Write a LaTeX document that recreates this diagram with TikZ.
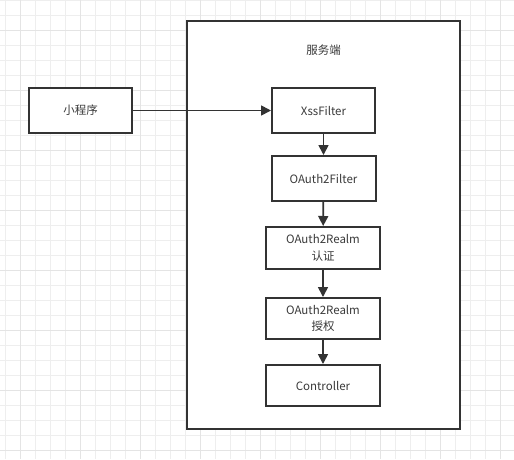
\documentclass[tikz,border=0pt]{standalone}
\usepackage{fontspec}
\setmainfont{Noto Sans CJK SC}
\usetikzlibrary{arrows.meta}
\definecolor{ink}{HTML}{333333}
\definecolor{txt}{HTML}{3A3A3A}
\definecolor{gridc}{HTML}{EEEEEE}
\definecolor{gridd}{HTML}{E4E4E4}
\begin{document}
\begin{tikzpicture}[x=1pt,y=-1pt,
  box/.style={draw=ink,line width=2pt,fill=white,text=txt,font=\fontsize{11.5}{16.5}\selectfont,align=center,inner sep=0pt},
  conn/.style={draw=ink,line width=1.7pt,-{Triangle[length=10pt,width=10pt]}}]
\useasboundingbox (0,0) rectangle (514,459);
\fill[white] (0,0) rectangle (514,459);
% grid
\foreach \i in {0,...,34} {\draw[gridc,line width=1pt] (5.5+15*\i,0) -- (5.5+15*\i,459);}
\foreach \i in {0,...,30} {\draw[gridc,line width=1pt] (0,15*\i) -- (514,15*\i);}
\foreach \i in {0,...,8} {\draw[gridd,line width=1pt] (20.5+60*\i,0) -- (20.5+60*\i,459);}
\foreach \i in {0,...,7} {\draw[gridd,line width=1pt] (0,30+60*\i) -- (514,30+60*\i);}
% server container
\node[draw=ink,line width=2pt,fill=white,minimum width=273pt,minimum height=408pt,inner sep=0pt] (server) at (323.5,224.5) {};
\node[text=txt,font=\fontsize{11.5}{13}\selectfont] (title) at (323.5,50) {服务端};
% nodes
\node[box,minimum width=103pt,minimum height=45pt] (app) at (80.5,110.5) {小程序};
\node[box,minimum width=103pt,minimum height=45pt] (xss) at (323.5,110.5) {XssFilter};
\node[box,minimum width=104pt,minimum height=45pt] (oaf) at (323.5,178.5) {OAuth2Filter};
\node[box,minimum width=114pt,minimum height=42pt] (authn) at (323,248) {OAuth2Realm\\认证};
\node[box,minimum width=114pt,minimum height=41pt] (authz) at (323,318.5) {OAuth2Realm\\授权};
\node[box,minimum width=114pt,minimum height=41pt] (ctrl) at (323,385.5) {Controller};
% connectors
\draw[conn] (app) -- (xss);
\draw[conn] (xss) -- (oaf);
\draw[conn] (oaf) -- (authn);
\draw[conn] (authn) -- (authz);
\draw[conn] (authz) -- (ctrl);
\end{tikzpicture}
\end{document}
